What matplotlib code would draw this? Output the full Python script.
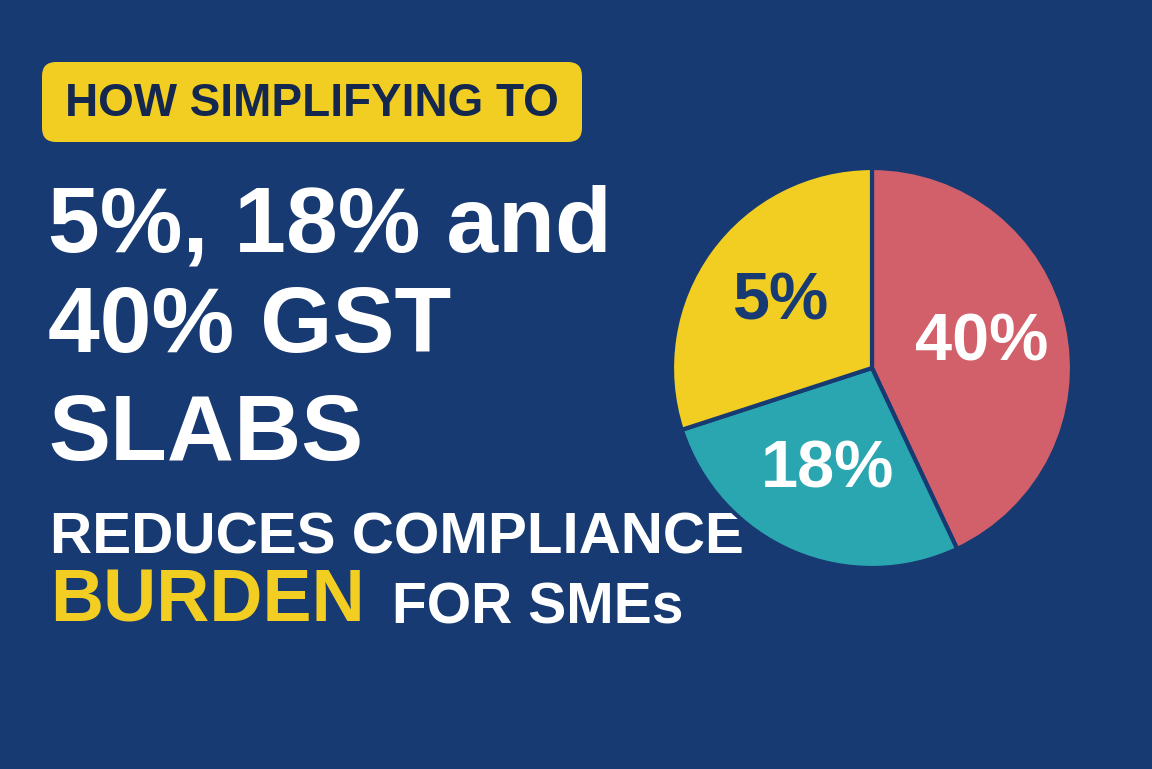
import matplotlib
matplotlib.use("Agg")
import matplotlib.pyplot as plt
from matplotlib.patches import FancyBboxPatch

slab_labels = ["40%", "18%", "5%"]
slab_shares = [43, 27, 30]
slab_colors = ["#d2606a", "#2aa6b0", "#f2cd22"]
label_colors = ["white", "white", "#173a72"]

bg = "#173a72"
font = "Liberation Sans"

fig = plt.figure(figsize=(11.52, 7.69), dpi=100, facecolor=bg)
ax = fig.add_axes([0, 0, 1, 1])
ax.set_xlim(0, 1152)
ax.set_ylim(769, 0)
ax.axis("off")

# yellow badge
ax.add_patch(FancyBboxPatch((52, 72), 520, 60, boxstyle="round,pad=10,rounding_size=14",
                            fc="#f2cd22", ec="none"))
ax.text(312, 104, "HOW SIMPLIFYING TO", ha="center", va="center", fontsize=33,
        fontweight="bold", color="#14284f", family=font)

for y, s in [(228, "5%, 18% and"), (328, "40% GST"), (436, "SLABS")]:
    ax.text(48, y, s, ha="left", va="center", fontsize=67, fontweight="bold",
            color="white", family=font)

ax.text(50, 538, "REDUCES COMPLIANCE", ha="left", va="center", fontsize=42,
        fontweight="bold", color="white", family=font)
ax.text(50, 602, "BURDEN", ha="left", va="center", fontsize=53,
        fontweight="bold", color="#f2cd22", family=font)
ax.text(392, 608, "FOR SMEs", ha="left", va="center", fontsize=41,
        fontweight="bold", color="white", family=font)

pax = fig.add_axes([672 / 1152, 1 - 568 / 769, 400 / 1152, 400 / 769])
pax.set_facecolor(bg)
wedges, texts = pax.pie(slab_shares, labels=slab_labels, colors=slab_colors,
                        startangle=90, counterclock=False, labeldistance=0.56,
                        wedgeprops=dict(edgecolor=bg, linewidth=3))
for tx, c in zip(texts, label_colors):
    tx.set_color(c)
    tx.set_fontsize(48)
    tx.set_fontweight("bold")
    tx.set_family(font)
    tx.set_ha("center")
    tx.set_va("center")
pax.set_xlim(-1.0, 1.0)
pax.set_ylim(-1.0, 1.0)
pax.set_aspect("equal")

fig.savefig("out.png", facecolor=bg)
